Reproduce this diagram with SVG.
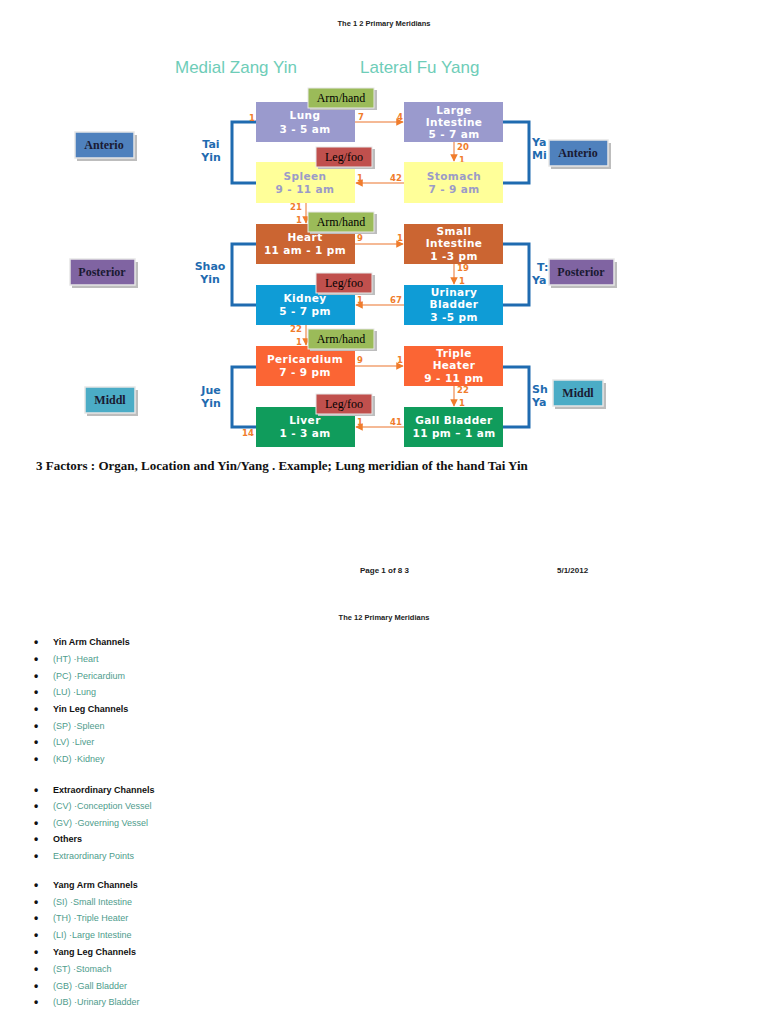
<svg xmlns="http://www.w3.org/2000/svg" width="768" height="1024" viewBox="0 0 768 1024">
<style>
.hdr{font-family:"Liberation Sans",Arial,sans-serif;font-size:7.5px;font-weight:bold;fill:#222;}
.title{font-family:"Liberation Sans",Arial,sans-serif;font-size:17px;fill:#6ECDB8;}
.bx{font-family:"DejaVu Sans",Verdana,sans-serif;font-size:10.5px;font-weight:bold;fill:#fff;letter-spacing:0.4px;text-anchor:middle;}
.bxy{fill:#9B9BC8;}
.num{font-family:"DejaVu Sans",Verdana,sans-serif;font-size:8.5px;font-weight:bold;fill:#F07C2C;}
.yin{font-family:"DejaVu Sans",Verdana,sans-serif;font-size:11px;font-weight:bold;fill:#1F6BB0;}
.lbl{font-family:"Liberation Serif","Times New Roman",serif;font-size:12px;text-anchor:middle;}
.lblb{font-family:"Liberation Serif","Times New Roman",serif;font-size:12px;font-weight:bold;fill:#1A1A33;text-anchor:middle;}
.shadow{fill:#BDBDBD;}
.brk{fill:none;stroke:#1F6BB0;stroke-width:3;}
.arr{fill:none;stroke:#F2A272;stroke-width:1.5;marker-end:url(#ah);}
.foot{font-family:"Liberation Sans",Arial,sans-serif;font-size:8px;font-weight:bold;fill:#222;}
.li{font-family:"Liberation Sans",Arial,sans-serif;font-size:9px;fill:#4E9C8C;}
.lih{font-family:"Liberation Sans",Arial,sans-serif;font-size:9px;font-weight:bold;fill:#111;}
.bul{font-family:"Liberation Sans",Arial,sans-serif;font-size:12px;font-weight:bold;fill:#111;}
</style>
<defs>
<marker id="ah" viewBox="0 0 10 10" refX="9" refY="5" markerWidth="5" markerHeight="5" orient="auto">
<path d="M0,0 L10,5 L0,10 z" fill="#F07C2C"/>
</marker>
</defs>
<rect width="768" height="1024" fill="#fff"/>

<text class="hdr" x="384" y="26" text-anchor="middle">The 1 2 Primary Meridians</text>
<text class="title" x="175" y="73">Medial Zang Yin</text>
<text class="title" x="360" y="73">Lateral Fu Yang</text>

<g id="connectors">
<path class="brk" d="M256,122 H232 V183 H256"/>
<path class="brk" d="M503,122 H529 V183 H503"/>
<path class="brk" d="M256,244 H232 V305 H256"/>
<path class="brk" d="M503,244 H529 V305 H503"/>
<path class="brk" d="M256,367 H232 V427 H256"/>
<path class="brk" d="M503,367 H529 V427 H503"/>
<line class="arr" x1="355" y1="122" x2="403" y2="122"/>
<line class="arr" x1="454" y1="142" x2="454" y2="161"/>
<line class="arr" x1="404" y1="183" x2="356" y2="183"/>
<line class="arr" x1="306" y1="203" x2="306" y2="223"/>
<line class="arr" x1="355" y1="244" x2="403" y2="244"/>
<line class="arr" x1="454" y1="264" x2="454" y2="284"/>
<line class="arr" x1="404" y1="305" x2="356" y2="305"/>
<line class="arr" x1="306" y1="325" x2="306" y2="345"/>
<line class="arr" x1="355" y1="366" x2="403" y2="366"/>
<line class="arr" x1="454" y1="386" x2="454" y2="406"/>
<line class="arr" x1="404" y1="427" x2="356" y2="427"/>
<text class="num" x="249" y="121">1</text>
<text class="num" x="358" y="120">7</text>
<text class="num" x="397" y="120">4</text>
<text class="num" x="457" y="150">20</text>
<text class="num" x="459" y="163">1</text>
<text class="num" x="390" y="181">42</text>
<text class="num" x="357" y="181">1</text>
<text class="num" x="290" y="210">21</text>
<text class="num" x="296" y="223">1</text>
<text class="num" x="357" y="241">9</text>
<text class="num" x="397" y="241">1</text>
<text class="num" x="457" y="271">19</text>
<text class="num" x="459" y="284">1</text>
<text class="num" x="390" y="303">67</text>
<text class="num" x="357" y="303">1</text>
<text class="num" x="290" y="332">22</text>
<text class="num" x="296" y="345">1</text>
<text class="num" x="357" y="363">9</text>
<text class="num" x="397" y="363">1</text>
<text class="num" x="457" y="393">22</text>
<text class="num" x="459" y="406">1</text>
<text class="num" x="390" y="425">41</text>
<text class="num" x="357" y="425">1</text>
<text class="num" x="242" y="436">14</text>
</g>

<g id="taiyin"><text class="yin" x="211" y="148" text-anchor="middle">Tai</text><text class="yin" x="211" y="161" text-anchor="middle">Yin</text></g>
<g id="shaoyin"><text class="yin" x="210" y="270" text-anchor="middle">Shao</text><text class="yin" x="210" y="283" text-anchor="middle">Yin</text></g>
<g id="jueyin"><text class="yin" x="211" y="394" text-anchor="middle">Jue</text><text class="yin" x="211" y="407" text-anchor="middle">Yin</text></g>
<g id="yangming"><text class="yin" x="532" y="146">Ya</text><text class="yin" x="532" y="159">Mi</text></g>
<g id="taiyang"><text class="yin" x="537" y="271">T:</text><text class="yin" x="532" y="284">Ya</text></g>
<g id="shaoyang"><text class="yin" x="532" y="393">Sh</text><text class="yin" x="532" y="406">Ya</text></g>

<g id="lung"><rect x="256" y="102" width="99" height="40" fill="#9A9ACD"/><text class="bx" x="305" y="119">Lung</text><text class="bx" x="305" y="133">3 - 5 am</text></g>
<g id="large-intestine"><rect x="404" y="102" width="99" height="40" fill="#9A9ACD"/><text class="bx" x="454" y="114">Large</text><text class="bx" x="454" y="126">Intestine</text><text class="bx" x="454" y="138">5 - 7 am</text></g>
<g id="spleen"><rect x="256" y="162" width="99" height="41" fill="#FFFF99"/><text class="bx bxy" x="305" y="180">Spleen</text><text class="bx bxy" x="305" y="193">9 - 11 am</text></g>
<g id="stomach"><rect x="404" y="162" width="99" height="41" fill="#FFFF99"/><text class="bx bxy" x="454" y="180">Stomach</text><text class="bx bxy" x="454" y="193">7 - 9 am</text></g>

<g id="heart"><rect x="256" y="224" width="99" height="40" fill="#CB6532"/><text class="bx" x="305" y="241">Heart</text><text class="bx" x="305" y="254">11 am - 1 pm</text></g>
<g id="small-intestine"><rect x="404" y="224" width="99" height="40" fill="#CB6532"/><text class="bx" x="454" y="235">Small</text><text class="bx" x="454" y="247">Intestine</text><text class="bx" x="454" y="260">1 -3 pm</text></g>
<g id="kidney"><rect x="256" y="285" width="99" height="40" fill="#0F9CD6"/><text class="bx" x="305" y="302">Kidney</text><text class="bx" x="305" y="315">5 - 7 pm</text></g>
<g id="urinary-bladder"><rect x="404" y="285" width="99" height="40" fill="#0F9CD6"/><text class="bx" x="454" y="296">Urinary</text><text class="bx" x="454" y="308">Bladder</text><text class="bx" x="454" y="321">3 -5 pm</text></g>

<g id="pericardium"><rect x="256" y="346" width="99" height="40" fill="#FB6534"/><text class="bx" x="305" y="363">Pericardium</text><text class="bx" x="305" y="376">7 - 9 pm</text></g>
<g id="triple-heater"><rect x="404" y="346" width="99" height="40" fill="#FB6534"/><text class="bx" x="454" y="357">Triple</text><text class="bx" x="454" y="369">Heater</text><text class="bx" x="454" y="382">9 - 11 pm</text></g>
<g id="liver"><rect x="256" y="407" width="99" height="40" fill="#109C5C"/><text class="bx" x="305" y="424">Liver</text><text class="bx" x="305" y="437">1 - 3 am</text></g>
<g id="gall-bladder"><rect x="404" y="407" width="99" height="40" fill="#109C5C"/><text class="bx" x="454" y="424">Gall Bladder</text><text class="bx" x="454" y="437">11 pm – 1 am</text></g>

<g id="arm1"><rect class="shadow" x="310" y="90" width="67" height="20"/><rect x="308" y="88" width="66" height="20" fill="#9BBB59" stroke="#E8E8E8"/><text class="lbl" x="341" y="102">Arm/hand</text></g>
<g id="leg1"><rect class="shadow" x="318" y="149" width="57" height="20"/><rect x="316" y="147" width="56" height="20" fill="#C0504D" stroke="#E8E8E8"/><text class="lbl" x="344" y="161">Leg/foo</text></g>
<g id="arm2"><rect class="shadow" x="310" y="214" width="67" height="20"/><rect x="308" y="212" width="66" height="20" fill="#9BBB59" stroke="#E8E8E8"/><text class="lbl" x="341" y="226">Arm/hand</text></g>
<g id="leg2"><rect class="shadow" x="318" y="275" width="57" height="20"/><rect x="316" y="273" width="56" height="20" fill="#C0504D" stroke="#E8E8E8"/><text class="lbl" x="344" y="287">Leg/foo</text></g>
<g id="arm3"><rect class="shadow" x="310" y="331" width="67" height="20"/><rect x="308" y="329" width="66" height="20" fill="#9BBB59" stroke="#E8E8E8"/><text class="lbl" x="341" y="343">Arm/hand</text></g>
<g id="leg3"><rect class="shadow" x="318" y="396" width="57" height="20"/><rect x="316" y="394" width="56" height="20" fill="#C0504D" stroke="#E8E8E8"/><text class="lbl" x="344" y="408">Leg/foo</text></g>

<g id="anterio-left"><rect class="shadow" x="77" y="135" width="60" height="26"/><rect x="75" y="132" width="59" height="26" fill="#4F81BD" stroke="#E6E6E6" stroke-width="1.5"/><text class="lblb" x="104" y="149">Anterio</text></g>
<g id="anterio-right"><rect class="shadow" x="551" y="143" width="60" height="26"/><rect x="549" y="140" width="59" height="26" fill="#4F81BD" stroke="#E6E6E6" stroke-width="1.5"/><text class="lblb" x="578" y="157">Anterio</text></g>
<g id="posterior-left"><rect class="shadow" x="72" y="262" width="66" height="26"/><rect x="70" y="259" width="65" height="26" fill="#8064A2" stroke="#E6E6E6" stroke-width="1.5"/><text class="lblb" x="102" y="276">Posterior</text></g>
<g id="posterior-right"><rect class="shadow" x="551" y="262" width="66" height="26"/><rect x="549" y="259" width="65" height="26" fill="#8064A2" stroke="#E6E6E6" stroke-width="1.5"/><text class="lblb" x="581" y="276">Posterior</text></g>
<g id="middl-left"><rect class="shadow" x="87" y="390" width="51" height="26"/><rect x="85" y="387" width="50" height="26" fill="#4BACC6" stroke="#E6E6E6" stroke-width="1.5"/><text class="lblb" x="110" y="404">Middl</text></g>
<g id="middl-right"><rect class="shadow" x="555" y="383" width="51" height="26"/><rect x="553" y="380" width="50" height="26" fill="#4BACC6" stroke="#E6E6E6" stroke-width="1.5"/><text class="lblb" x="578" y="397">Middl</text></g>

<text x="36" y="470" font-family="Liberation Serif,'Times New Roman',serif" font-size="13px" font-weight="bold" fill="#111">3 Factors : Organ, Location and Yin/Yang . Example; Lung meridian of the hand Tai Yin</text>

<text class="foot" x="360" y="573">Page 1 of 8 3</text>
<text class="foot" x="557" y="573">5/1/2012</text>

<text class="hdr" x="384" y="620" text-anchor="middle">The 12 Primary Meridians</text>

<g id="list">
<text class="bul" x="34" y="646">•</text><text class="lih" x="53" y="645">Yin Arm Channels</text>
<text class="bul" x="34" y="663">•</text><text class="li" x="53" y="662">(HT) ·Heart</text>
<text class="bul" x="34" y="680">•</text><text class="li" x="53" y="679">(PC) ·Pericardium</text>
<text class="bul" x="34" y="696">•</text><text class="li" x="53" y="695">(LU) ·Lung</text>
<text class="bul" x="34" y="713">•</text><text class="lih" x="53" y="712">Yin Leg Channels</text>
<text class="bul" x="34" y="730">•</text><text class="li" x="53" y="729">(SP) ·Spleen</text>
<text class="bul" x="34" y="746">•</text><text class="li" x="53" y="745">(LV) ·Liver</text>
<text class="bul" x="34" y="763">•</text><text class="li" x="53" y="762">(KD) ·Kidney</text>
<text class="bul" x="34" y="794">•</text><text class="lih" x="53" y="793">Extraordinary Channels</text>
<text class="bul" x="34" y="810">•</text><text class="li" x="53" y="809">(CV) ·Conception Vessel</text>
<text class="bul" x="34" y="827">•</text><text class="li" x="53" y="826">(GV) ·Governing Vessel</text>
<text class="bul" x="34" y="843">•</text><text class="lih" x="53" y="842">Others</text>
<text class="bul" x="34" y="860">•</text><text class="li" x="53" y="859">Extraordinary Points</text>
<text class="bul" x="34" y="889">•</text><text class="lih" x="53" y="888">Yang Arm Channels</text>
<text class="bul" x="34" y="906">•</text><text class="li" x="53" y="905">(SI) ·Small  Intestine</text>
<text class="bul" x="34" y="922">•</text><text class="li" x="53" y="921">(TH) ·Triple Heater</text>
<text class="bul" x="34" y="939">•</text><text class="li" x="53" y="938">(LI) ·Large Intestine</text>
<text class="bul" x="34" y="956">•</text><text class="lih" x="53" y="955">Yang Leg Channels</text>
<text class="bul" x="34" y="973">•</text><text class="li" x="53" y="972">(ST) ·Stomach</text>
<text class="bul" x="34" y="990">•</text><text class="li" x="53" y="989">(GB) ·Gall Bladder</text>
<text class="bul" x="34" y="1006">•</text><text class="li" x="53" y="1005">(UB) ·Urinary Bladder</text>
</g>
</svg>
